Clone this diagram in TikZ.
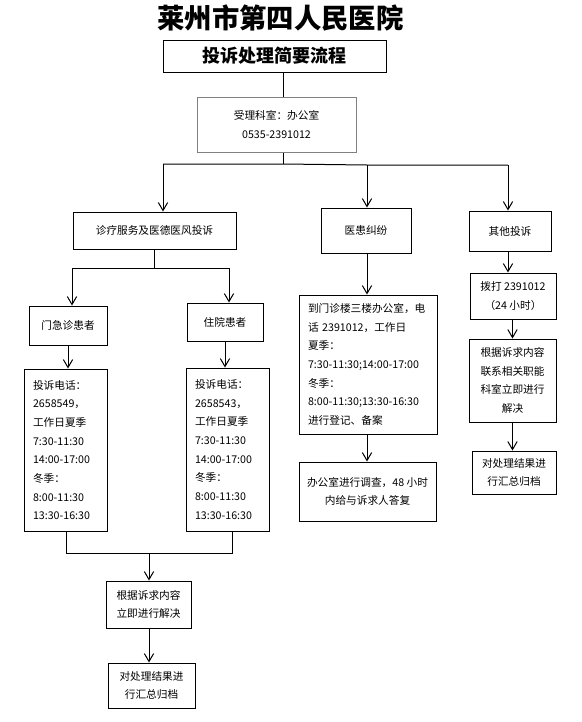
\documentclass[tikz,border=0pt]{standalone}
\usepackage{fontspec}
\newfontfamily\cjk{Noto Sans CJK SC}
\usetikzlibrary{arrows.meta}
\tikzset{every picture/.style={line width=0.75pt}}
\tikzset{
	box/.style={draw, align=center, inner sep=0pt, font=\cjk\fontsize{8pt}{14pt}\selectfont},
	boxsize/.style 2 args={minimum width=#1*0.75pt, minimum height=#2*0.75pt},
	listbox/.style={box, align=left, text width=#1},
	flow/.style={-{Straight Barb[length=6pt,width=7pt]}},
}

\begin{document}
\begin{tikzpicture}[x=0.75pt,y=0.75pt,yscale=-1,xscale=1]
	\useasboundingbox (0,0) rectangle (582,722);

	% Text Node
	\node[font=\cjk\bfseries\fontsize{20.5pt}{24pt}\selectfont] (title) at (280.5,18) {莱州市第四人民医院};
	%Shape: Rectangle
	\node[box, boxsize={223}{32}, font=\cjk\bfseries\fontsize{13.5pt}{16pt}\selectfont] (head) at (274.5,56) {投诉处理简要流程};
	%Shape: Rectangle
	\node[box, boxsize={159}{55}, color={rgb, 255:red, 128; green, 128; blue, 128}, text=black] (recv) at (276.5,124.5) {受理科室：办公室\\0535-2391012};

	%Shape: Rectangle
	\node[box, boxsize={163}{37}] (diag) at (154.5,230.5) {诊疗服务及医德医风投诉};
	\node[box, boxsize={90}{45}] (disp) at (366,230.5) {医患纠纷};
	\node[box, boxsize={82}{40}] (other) at (510,231) {其他投诉};

	% left branch
	\node[box, boxsize={78}{39}] (opd) at (68,325.5) {门急诊患者};
	\node[box, boxsize={76}{38}] (inp) at (225,322) {住院患者};
	\node[listbox=48.75pt, boxsize={83}{162}] (opdd) at (65.5,450) {投诉电话：\\2658549，\\工作日夏季\\7:30-11:30\\14:00-17:00\\冬季：\\8:00-11:30\\13:30-16:30};
	\node[listbox=48.75pt, boxsize={83}{163}] (inpd) at (227.5,449.5) {投诉电话：\\2658543，\\工作日夏季\\7:30-11:30\\14:00-17:00\\冬季：\\8:00-11:30\\13:30-16:30};
	\node[box, boxsize={85}{47}] (solve) at (148.5,604.5) {根据诉求内容\\立即进行解决};
	\node[box, boxsize={87}{45}] (arch) at (151.5,685.5) {对处理结果进\\行汇总归档};

	% middle branch
	\node[listbox=90pt, boxsize={138}{139}] (dispd) at (368,364.5) {到门诊楼三楼办公室，电\\话 2391012，工作日\\夏季：\\7:30-11:30;14:00-17:00\\冬季：\\8:00-11:30;13:30-16:30\\进行登记、备案};
	\node[box, boxsize={137}{59}] (reply) at (367.5,491.5) {办公室进行调查，48 小时\\内给与诉求人答复};

	% right branch
	\node[box, boxsize={86}{46}] (dial) at (513,296) {拨打 2391012\\（24 小时）};
	\node[box, boxsize={87}{83}] (contact) at (512.5,380.5) {根据诉求内容\\联系相关职能\\科室立即进行\\解决};
	\node[box, boxsize={84}{43}] (arch2) at (514,472.5) {对处理结果进\\行汇总归档};

	% junctions
	\coordinate (top) at (283,164);
	\coordinate (jl) at (163,164);
	\coordinate (jm) at (367,165);
	\coordinate (jr) at (508,165);
	\coordinate (jd) at (154,268);
	\coordinate (jdl) at (72,268);
	\coordinate (jdr) at (229,268);
	\coordinate (jbl) at (66,553);
	\coordinate (jbm) at (149,553);
	\coordinate (jbr) at (232,553);

	%Straight Lines
	\draw (head.south -| top) -- (recv.north -| top);
	\draw (recv.south -| top) -- (top);
	\draw (jl) -- (jl -| top) -- (jm) -- (jr);
	\draw[flow] (jl) -- (diag.north -| jl);
	\draw[flow] (jm) -- (disp.north -| jm);
	\draw[flow] (jr) -- (other.north -| jr);

	\draw (diag.south -| jd) -- (jd);
	\draw (jdl) -- (jdr);
	\draw[flow] (jdl) -- (opd.north -| jdl);
	\draw[flow] (jdr) -- (inp.north -| jdr);
	\draw[flow] (opd.south) -- (opdd.north -| opd.south);
	\draw[flow] (inp.south) -- (inpd.north -| inp.south);
	\draw (opdd.south -| jbl) -- (jbl) -- (jbr) -- (inpd.south -| jbr);
	\draw[flow] (jbm) -- (solve.north -| jbm);
	\draw[flow] (solve.south -| jbm) -- (arch.north -| jbm);

	\draw[flow] (disp.south -| jm) -- (dispd.north -| jm);
	\draw[flow] (dispd.south -| jm) -- (reply.north -| jm);

	\draw[flow] (other.south -| jr) -- (dial.north -| jr);
	\draw[flow] (dial.south -| contact.north) -- (contact.north);
	\draw[flow] (contact.south) -- (arch2.north -| contact.south);

\end{tikzpicture}
\end{document}
